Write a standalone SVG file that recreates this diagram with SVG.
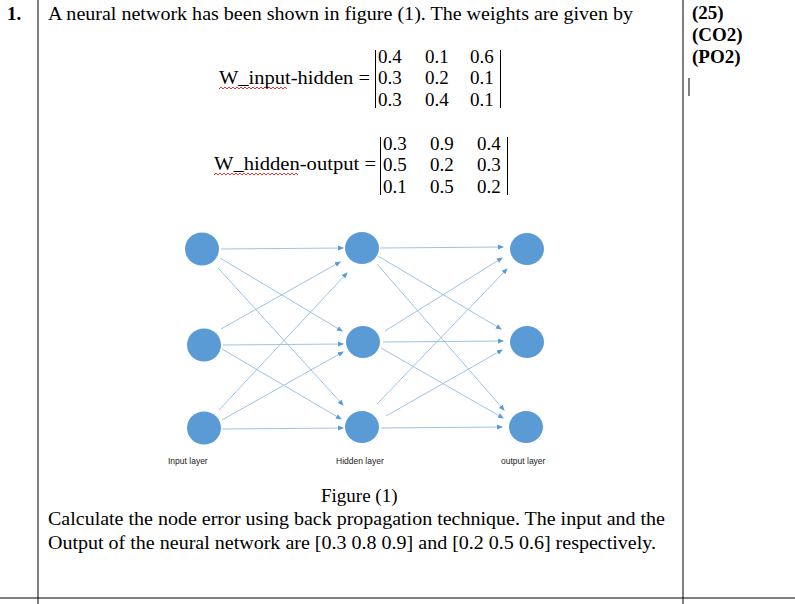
<svg xmlns="http://www.w3.org/2000/svg" width="795" height="604" viewBox="0 0 795 604">
<defs>
<style>
.t{font-family:"Liberation Serif",serif;font-size:19px;fill:#000}
.b{font-weight:bold}
.s{font-family:"Liberation Sans",sans-serif;font-size:8.5px;fill:#222}
.n{fill:#5b9bd5}
.e{stroke:#9dc3e6;stroke-width:1;fill:none;marker-end:url(#a)}
.g{stroke:#000;stroke-width:1;fill:none}
.w{stroke:#e00;stroke-width:0.8;fill:none}
</style>
<marker id="a" viewBox="0 0 6 6" refX="5" refY="3" markerWidth="6" markerHeight="6" orient="auto"><path d="M0,0.5 L6,3 L0,5.5z" fill="#5b9bd5"/></marker>
</defs>
<rect width="795" height="604" fill="#fff"/>
<g id="grid">
<line class="g" x1="38" y1="0" x2="38" y2="604"/>
<line class="g" x1="683" y1="0" x2="683" y2="604"/>
<line class="g" x1="0" y1="598" x2="795" y2="598"/>
<line class="g" x1="689" y1="78" x2="689" y2="96"/>
</g>
<g id="texts">
<text class="t b" x="7" y="20">1.</text>
<text class="t" x="48" y="20" textLength="585" lengthAdjust="spacingAndGlyphs">A neural network has been shown in figure (1). The weights are given by</text>
<text class="t b" x="692" y="19">(25)</text>
<text class="t b" x="692" y="41">(CO2)</text>
<text class="t b" x="692" y="63">(PO2)</text>
<text class="t" x="219" y="84" textLength="151" lengthAdjust="spacingAndGlyphs">W_input-hidden =</text>
<path class="w" d="M219,89 l2,-2 l2,2 l2,-2 l2,2 l2,-2 l2,2 l2,-2 l2,2 l2,-2 l2,2 l2,-2 l2,2 l2,-2 l2,2 l2,-2 l2,2 l2,-2 l2,2 l2,-2 l2,2 l2,-2 l2,2 l2,-2 l2,2 l2,-2 l2,2 l2,-2 l2,2 l2,-2 l2,2 l2,-2 l2,2 l2,-2 l2,2"/>
<line class="g" x1="375.5" y1="50" x2="375.5" y2="108"/>
<line class="g" x1="500.5" y1="50" x2="500.5" y2="108"/>
<text class="t" x="378" y="63">0.4</text><text class="t" x="425" y="63">0.1</text><text class="t" x="470" y="63">0.6</text>
<text class="t" x="378" y="84">0.3</text><text class="t" x="425" y="84">0.2</text><text class="t" x="470" y="84">0.1</text>
<text class="t" x="378" y="106">0.3</text><text class="t" x="425" y="106">0.4</text><text class="t" x="470" y="106">0.1</text>
<text class="t" x="214" y="170" textLength="162" lengthAdjust="spacingAndGlyphs">W_hidden-output =</text>
<path class="w" d="M214,175 l2,-2 l2,2 l2,-2 l2,2 l2,-2 l2,2 l2,-2 l2,2 l2,-2 l2,2 l2,-2 l2,2 l2,-2 l2,2 l2,-2 l2,2 l2,-2 l2,2 l2,-2 l2,2 l2,-2 l2,2 l2,-2 l2,2 l2,-2 l2,2 l2,-2 l2,2 l2,-2 l2,2 l2,-2 l2,2 l2,-2 l2,2 l2,-2 l2,2 l2,-2 l2,2 l2,-2 l2,2 l2,-2 l2,2"/>
<line class="g" x1="380.5" y1="137" x2="380.5" y2="195"/>
<line class="g" x1="507.5" y1="137" x2="507.5" y2="195"/>
<text class="t" x="383" y="150">0.3</text><text class="t" x="430" y="150">0.9</text><text class="t" x="477" y="150">0.4</text>
<text class="t" x="383" y="171">0.5</text><text class="t" x="430" y="171">0.2</text><text class="t" x="477" y="171">0.3</text>
<text class="t" x="383" y="193">0.1</text><text class="t" x="430" y="193">0.5</text><text class="t" x="477" y="193">0.2</text>
<text class="s" x="168" y="464">Input layer</text>
<text class="s" x="336" y="464">Hidden layer</text>
<text class="s" x="501" y="464">output layer</text>
<text class="t" x="321" y="502">Figure (1)</text>
<text class="t" x="48" y="525" textLength="617" lengthAdjust="spacingAndGlyphs">Calculate the node error using back propagation technique. The input and the</text>
<text class="t" x="48" y="549" textLength="608" lengthAdjust="spacingAndGlyphs">Output of the neural network are [0.3 0.8 0.9] and [0.2 0.5 0.6] respectively.</text>
</g>
<g id="connectors">
<line class="e" x1="221" y1="249" x2="343" y2="248"/>
<line class="e" x1="220" y1="258" x2="342" y2="331"/>
<line class="e" x1="218" y1="268" x2="343" y2="405"/>
<line class="e" x1="221" y1="329" x2="340" y2="262"/>
<line class="e" x1="223" y1="345" x2="343" y2="344"/>
<line class="e" x1="222" y1="349" x2="341" y2="419"/>
<line class="e" x1="219" y1="410" x2="347" y2="273"/>
<line class="e" x1="222" y1="420" x2="343" y2="352"/>
<line class="e" x1="222" y1="429" x2="343" y2="428"/>
<line class="e" x1="380" y1="248" x2="503" y2="247"/>
<line class="e" x1="378" y1="256" x2="501" y2="329"/>
<line class="e" x1="377" y1="264" x2="504" y2="410"/>
<line class="e" x1="385" y1="331" x2="502" y2="258"/>
<line class="e" x1="383" y1="342" x2="503" y2="341"/>
<line class="e" x1="381" y1="348" x2="503" y2="418"/>
<line class="e" x1="377" y1="404" x2="507" y2="269"/>
<line class="e" x1="386" y1="416" x2="502" y2="350"/>
<line class="e" x1="381" y1="428" x2="502" y2="427"/>
</g>
<g id="i1"><ellipse class="n" cx="202" cy="249" rx="17" ry="16.5"/></g>
<g id="i2"><ellipse class="n" cx="204" cy="345" rx="17" ry="16.5"/></g>
<g id="i3"><ellipse class="n" cx="204" cy="428" rx="17" ry="16.5"/></g>
<g id="h1"><ellipse class="n" cx="362" cy="248" rx="17" ry="16"/></g>
<g id="h2"><ellipse class="n" cx="363" cy="342" rx="17" ry="16"/></g>
<g id="h3"><ellipse class="n" cx="362" cy="427" rx="17" ry="16"/></g>
<g id="o1"><ellipse class="n" cx="527" cy="249" rx="17" ry="16"/></g>
<g id="o2"><ellipse class="n" cx="527" cy="342" rx="17" ry="16"/></g>
<g id="o3"><ellipse class="n" cx="526" cy="427" rx="17" ry="16"/></g>
</svg>
